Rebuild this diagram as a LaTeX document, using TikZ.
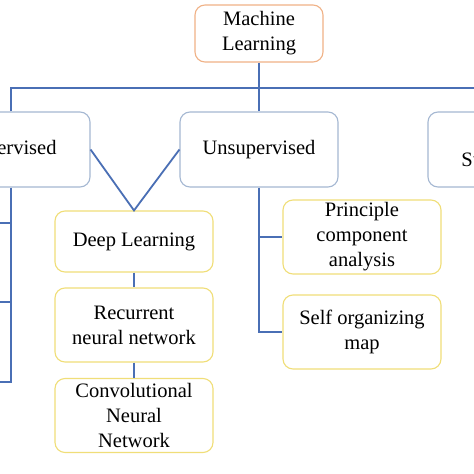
\documentclass[tikz,border=0pt]{standalone}
\usepackage{fontspec}
\setmainfont{Liberation Serif}
\definecolor{mllink}{RGB}{74,111,181}
\definecolor{mlroot}{RGB}{240,178,135}
\definecolor{mlcat}{RGB}{165,184,210}
\definecolor{mlleaf}{RGB}{240,222,120}
\usetikzlibrary{positioning,calc}

\begin{document}
\begin{tikzpicture}[x=1pt,y=-1pt,
    box/.style={draw,line width=1.1pt,fill=white,rounded corners=10pt,
                align=center,inner sep=0pt,font=\fontsize{20.5}{25}\selectfont},
    rootbox/.style={box,draw=mlroot,minimum width=128pt,minimum height=57pt},
    catbox/.style={box,draw=mlcat,minimum width=158pt,minimum height=75pt},
    leafbox/.style={box,draw=mlleaf,minimum width=158pt,minimum height=74pt},
    link/.style={draw=mllink,line width=1.8pt}]
  \useasboundingbox[fill=white] (0,0) rectangle (474,474);
  \clip (0,0) rectangle (474,474);
  %% Root node
  \node[rootbox] (root) at (259,33.5) {Machine\\Learning};
  %% Categories
  \node[catbox] (sup)   at (11,149.5)  {Supervised};
  \node[catbox] (unsup) at (259,149.5) {Unsupervised};
  \node[catbox] (semi)  at (507,149.5) {Semi-\\Supervised};
  %% Deep learning column
  \node[leafbox,minimum height=61pt] (deep) at (134,241.5) {Deep Learning};
  \node[leafbox] (rnn) at (134,325)   {Recurrent\\neural network};
  \node[leafbox] (cnn) at (134,415.5) {Convolutional\\Neural\\Network};
  %% Unsupervised methods
  \node[leafbox] (pca) at (362,237) {Principle\\component\\analysis};
  \node[leafbox] (som) at (362,332) {Self organizing\\map};
  %% Bus from root
  \coordinate (hub) at (259,88);
  \draw[link] (root.south) -- (hub);
  \draw[link] (sup.north) -- (sup.north |- hub) -- (semi.north |- hub) -- (semi.north);
  \draw[link] (hub) -- (unsup.north);
  %% Deep learning links
  \draw[link] (sup.east) -- (deep.north) -- (unsup.west);
  \draw[link] (deep) -- (rnn);
  \draw[link] (rnn) -- (cnn);
  %% Unsupervised branch
  \draw[link] (unsup.south) -- (unsup.south |- som.west) -- (som.west);
  \draw[link] (unsup.south |- pca.west) -- (pca.west);
  %% Supervised branch (children off the edge)
  \coordinate (supa) at (-4,223);
  \coordinate (supb) at (-4,302);
  \coordinate (supc) at (-4,382);
  \draw[link] (sup.south) -- (sup.south |- supc) -- (supc);
  \draw[link] (sup.south |- supa) -- (supa);
  \draw[link] (sup.south |- supb) -- (supb);
\end{tikzpicture}
\end{document}
